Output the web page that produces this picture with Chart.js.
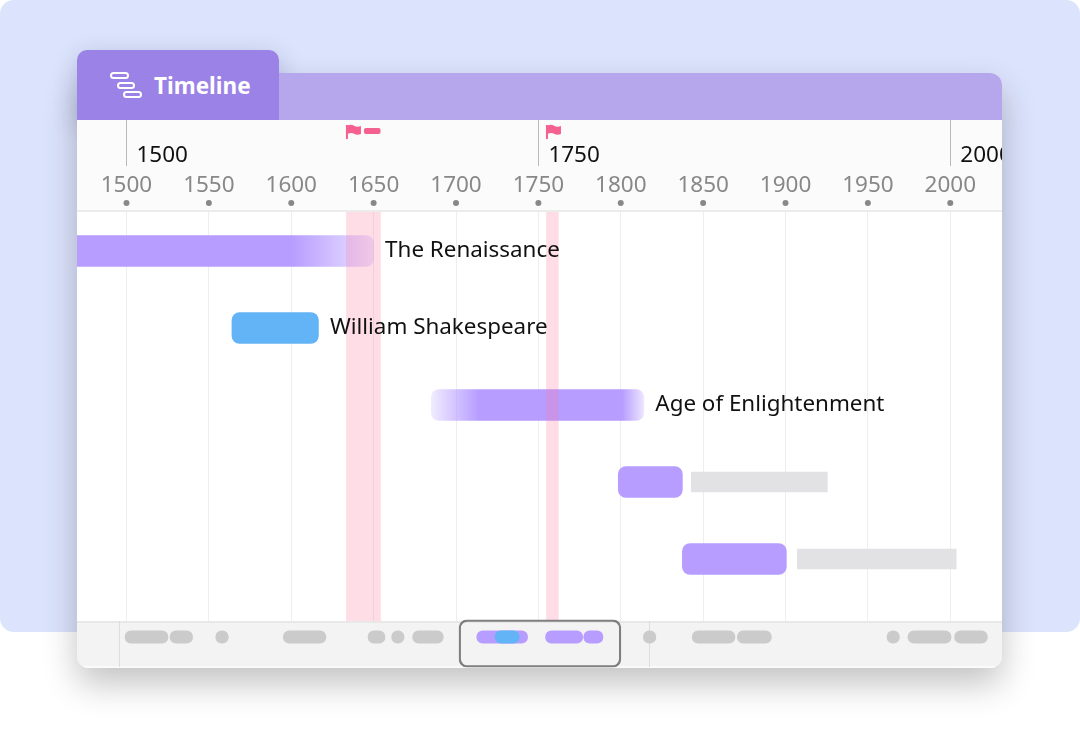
<!DOCTYPE html>
<html lang="en">
<head>
<meta charset="utf-8">
<title>Timeline</title>
<script src="https://cdn.jsdelivr.net/npm/chart.js@4"></script>
<style>
  html,body{margin:0;padding:0;background:#fff;width:1080px;height:737px;overflow:hidden;font-family:"Noto Sans",sans-serif}
  #panel{position:absolute;left:0;top:0;width:1080px;height:632px;background:#dce3fc;border-radius:14px}
  #tabShadow{position:absolute;left:77px;top:50px;width:202px;height:70px;border-radius:10px 10px 0 0;box-shadow:0 6px 24px rgba(40,40,90,.22)}
  #card{position:absolute;left:77px;top:73px;width:925px;height:595px;border-radius:0 12px 12px 12px;background:#fff;box-shadow:0 16px 34px rgba(0,0,0,.24)}
  #clip{position:absolute;left:0;top:0;width:925px;height:595px;border-radius:0 12px 12px 12px;overflow:hidden}
  #bar{position:absolute;left:0;top:0;width:925px;height:47px;background:#b6a6ec}
  #head{position:absolute;left:0;top:47px;width:925px;height:92px;background:#fbfbfb;box-shadow:inset 0 -2px 0 #ececec}
  #mini{position:absolute;left:0;top:548px;width:925px;height:47px;background:#f3f3f3;box-shadow:inset 0 2px 0 #e8e8e8,inset 0 -2px 0 #fafafa}
  canvas{position:absolute;display:block}
  #headCv{left:0;top:47px}
  #mainCv{left:0;top:139px}
  #miniCv{left:0;top:546px}
  #tab{position:absolute;left:77px;top:50px;width:202px;height:70px;background:#9b82e6;border-radius:10px 10px 0 0;color:#fff}
  #tab span{position:absolute;left:77px;top:18px;font:700 22.5px/36px "Noto Sans",sans-serif;white-space:nowrap}
  #tab i{position:absolute;display:block;box-sizing:border-box;border:2px solid #fff;border-radius:4px;height:7px}
</style>
</head>
<body>
<div id="panel"></div>
<div id="tabShadow"></div>
<div id="card">
  <div id="clip">
    <div id="bar"></div>
    <div id="head"></div>
    <div id="mini"></div>
    <canvas id="headCv" width="925" height="92"></canvas>
    <canvas id="mainCv" width="925" height="409"></canvas>
    <canvas id="miniCv" width="925" height="49"></canvas>
  </div>
</div>
<div id="tab">
  <i style="left:33px;top:22px;width:19px"></i>
  <i style="left:39.5px;top:32px;width:18px"></i>
  <i style="left:45.5px;top:41px;width:19px"></i>
  <span>Timeline</span>
</div>
<script>
// ---------- data (years) ----------
const AXIS_MIN = 1469.96, AXIS_MAX = 2031.4;
const tickYears = [1500,1550,1600,1650,1700,1750,1800,1850,1900,1950,2000];
const majorYears = [1500,1750,2000];

const rowLabels = ['The Renaissance','William Shakespeare','Age of Enlightenment','',''];
const renaissance = [1400,1650];
const shakespeare = [1564,1616.5];
const enlightenment = [1685,1814];
const row4Event = [1798.5,1837.4];
const row5Event = [1837.4,1900.5];
const row4Placeholder = [1842.8,1925.4];
const row5Placeholder = [1907.2,2003.6];
const renaissanceFade = [1600,1650];
const enlightenmentFade = [1685,1714,1801,1814];

const flagBands = [[1633.5,1654.2],[1754.9,1762.1]];

const overviewTicks = [0,2000];
const overviewGrey = [[22.6,184.9],[192.5,278],[365,412.5],[620,781],[939.6,1003.8],[1029,1075.5],[1108,1223.8],
                      [1978.5,2026],[2163,2324.5],[2333,2462],[2898,2945],[2977,3140],[3153,3277]];
const overviewPurple = [[1350,1542],[1609.4,1749.8],[1753.6,1826.4]];
const overviewBlue = [[1419,1510.6]];
const overviewWindow = [1283,1894];
const OVERVIEW_MIN = -158.5, OVERVIEW_MAX = 3332;

// ---------- palette ----------
const PURPLE = '#b79dff', BLUE = '#62b4f6', GREY_BAR = '#e2e2e4', PILL = '#cbcbcb', PINK = '#f4608f';
const BAND = 'rgba(255,120,160,0.25)';
const FONT = '"Noto Sans", sans-serif';
const purpleA = a => `rgba(183,157,255,${a})`;

Chart.defaults.animation = false;
Chart.defaults.responsive = false;
Chart.defaults.maintainAspectRatio = false;
Chart.defaults.devicePixelRatio = 1;

const fixH = h => s => { s.height = h; s.paddingLeft = 0; s.paddingRight = 0; s.paddingTop = 0; s.paddingBottom = 0; };
const useTicks = list => s => { s.ticks = list.map(value => ({value})); };
const off = {legend:{display:false},tooltip:{enabled:false},title:{display:false}};

// ---------- header: two axes, dots and flags ----------
const flagPlugin = {
  id:'flags',
  afterDraw(chart){
    const c = chart.ctx, sx = chart.scales.x;
    c.save(); c.fillStyle = PINK;
    flagBands.forEach(([a,b])=>{
      const x0 = sx.getPixelForValue(a), x1 = sx.getPixelForValue(b);
      c.fillRect(x0-0.5,5,2,14);
      c.beginPath(); c.moveTo(x0+1,5.5);
      c.quadraticCurveTo(x0+5,4,x0+8,6); c.quadraticCurveTo(x0+11,7.5,x0+14.5,6);
      c.lineTo(x0+14.5,14); c.quadraticCurveTo(x0+11,15.5,x0+8,14); c.quadraticCurveTo(x0+5,12,x0+1,14);
      c.closePath(); c.fill();
      if(x1-x0>20){ c.beginPath(); c.roundRect(x0+17.5,8,x1-x0-17.5,6,2); c.fill(); }
    });
    c.restore();
  }
};
new Chart(document.getElementById('headCv'),{
  type:'scatter',
  data:{datasets:[{data:tickYears.map(y=>({x:y,y:0.56})),pointRadius:3,pointBackgroundColor:'#888',pointBorderWidth:0}]},
  options:{
    layout:{padding:0,autoPadding:false},
    plugins:off,
    scales:{
      x:{type:'linear',position:'top',weight:0,min:AXIS_MIN,max:AXIS_MAX,afterBuildTicks:useTicks(tickYears),afterFit:fixH(30),
        border:{display:false},grid:{display:false},
        ticks:{autoSkip:false,maxRotation:0,minRotation:0,color:'#888',font:{family:FONT,size:22.5},padding:-11,
               callback:v=>String(v)}},
      x2:{type:'linear',axis:'x',position:'top',weight:1,min:AXIS_MIN,max:AXIS_MAX,afterBuildTicks:useTicks(majorYears),afterFit:fixH(46),
        border:{display:false},
        grid:{drawOnChartArea:false,drawTicks:true,tickLength:46,tickColor:'#b9b9b9',tickWidth:1},
        ticks:{autoSkip:false,maxRotation:0,minRotation:0,align:'start',labelOffset:10,padding:-49,color:'#111',font:{family:FONT,size:22.5},
               callback:v=>String(v)}},
      y:{display:false,min:0,max:1}
    }
  },
  plugins:[flagPlugin]
});

// ---------- main timeline ----------
const barRow = (range,row)=>[{x:range,y:row}];
const grad = (ctx,stops)=>{
  const s = ctx.chart.scales.x, c = ctx.chart.ctx;
  const a = stops[0][0], b = stops[stops.length-1][0];
  const p0 = s.getPixelForValue(a), p1 = s.getPixelForValue(b);
  if(!isFinite(p0)||!isFinite(p1)) return PURPLE;
  const g = c.createLinearGradient(p0,0,p1,0);
  stops.forEach(([v,al])=>g.addColorStop((v-a)/(b-a),purpleA(al)));
  return g;
};
const MAIN_TOP = -0.5065, MAIN_BOTTOM = 4.805, MID = (MAIN_TOP+MAIN_BOTTOM)/2;
const common = {grouped:false,barThickness:31,borderRadius:8,borderSkipped:false,borderWidth:0};
const labelPlugin = {
  id:'rowLabels',
  afterDatasetsDraw(chart){
    const c = chart.ctx, sx = chart.scales.x, sy = chart.scales.y;
    c.save(); c.fillStyle='#111'; c.font=`22.4px ${FONT}`; c.textBaseline='middle'; c.textAlign='left';
    [renaissance,shakespeare,enlightenment].forEach((r,i)=>{
      c.fillText(rowLabels[i],sx.getPixelForValue(r[1])+11.5,sy.getPixelForValue(i)-0.5);
    });
    c.restore();
  }
};
new Chart(document.getElementById('mainCv'),{
  type:'bar',
  data:{datasets:[
    ...flagBands.map(b=>({...common,order:0,barThickness:409,borderRadius:0,backgroundColor:BAND,data:barRow(b,MID)})),
    {...common,order:2,data:barRow(renaissance,0),
      backgroundColor:ctx=>grad(ctx,[[renaissanceFade[0],1],[renaissanceFade[1],0.28]])},
    {...common,order:2,data:barRow(shakespeare,1),backgroundColor:BLUE},
    {...common,order:2,data:barRow(enlightenment,2),
      backgroundColor:ctx=>grad(ctx,[[enlightenmentFade[0],0.2],[enlightenmentFade[1],1],[enlightenmentFade[2],1],[enlightenmentFade[3],0.25]])},
    {...common,order:2,data:barRow(row4Event,3),backgroundColor:PURPLE},
    {...common,order:2,data:barRow(row5Event,4),backgroundColor:PURPLE},
    {...common,order:2,barThickness:20,borderRadius:0,data:barRow(row4Placeholder,3),backgroundColor:GREY_BAR},
    {...common,order:2,barThickness:20,borderRadius:0,data:barRow(row5Placeholder,4),backgroundColor:GREY_BAR}
  ]},
  options:{
    indexAxis:'y',
    layout:{padding:0,autoPadding:false},
    plugins:off,
    scales:{
      x:{type:'linear',position:'top',min:AXIS_MIN,max:AXIS_MAX,afterBuildTicks:useTicks(tickYears),afterFit:fixH(0),
        border:{display:false},grid:{color:'#eeeeee',lineWidth:1,drawTicks:false},
        ticks:{display:false}},
      y:{type:'linear',display:false,reverse:true,offset:false,min:MAIN_TOP,max:MAIN_BOTTOM}
    }
  },
  plugins:[labelPlugin]
});

// ---------- overview strip ----------
const pillRow = 0.348, windowRow = 0.489;
const pills = {grouped:false,barThickness:12.5,borderRadius:7,borderSkipped:false,borderWidth:0};
new Chart(document.getElementById('miniCv'),{
  type:'bar',
  data:{datasets:[
    {grouped:false,order:0,clip:false,barThickness:47.5,borderRadius:8,borderSkipped:false,borderWidth:1.6,borderColor:'#7f7f7f',backgroundColor:'rgba(0,0,0,0)',
     data:[{x:overviewWindow,y:windowRow}]},
    {...pills,order:1,backgroundColor:BLUE,data:overviewBlue.map(r=>({x:r,y:pillRow}))},
    {...pills,order:2,backgroundColor:PURPLE,data:overviewPurple.map(r=>({x:r,y:pillRow}))},
    {...pills,order:3,backgroundColor:PILL,data:overviewGrey.map(r=>({x:r,y:pillRow}))}
  ]},
  options:{
    indexAxis:'y',
    layout:{padding:{top:2,bottom:1,left:0,right:0},autoPadding:false},
    plugins:off,
    scales:{
      x:{type:'linear',position:'top',min:OVERVIEW_MIN,max:OVERVIEW_MAX,afterBuildTicks:useTicks(overviewTicks),afterFit:fixH(0),
        border:{display:false},grid:{color:'#dddddd',lineWidth:1,drawTicks:false},
        ticks:{display:false}},
      y:{type:'linear',display:false,reverse:true,offset:false,min:0,max:1}
    }
  }
});
</script>
</body>
</html>
